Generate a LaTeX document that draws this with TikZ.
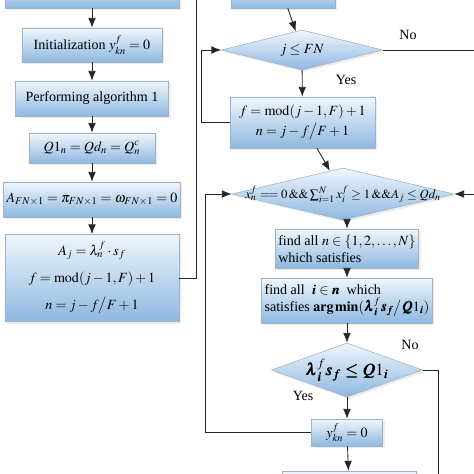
\documentclass[tikz,border=0pt]{standalone}
\usepackage{amsmath}
\usepackage{mathptmx}
\usepackage{bm}
\usepackage{fontspec}
\setmainfont{Liberation Serif}
\usetikzlibrary{positioning,arrows.meta,shadows,shapes.geometric}

\definecolor{boxtop}{RGB}{240,246,252}
\definecolor{boxbot}{RGB}{142,184,224}
\definecolor{boxline}{RGB}{158,178,200}

\tikzset{>={Latex[length=7pt,width=5.5pt]},
                 box/.style={draw=boxline, line width=0.4pt, top color=boxtop, bottom color=boxbot,
                             text centered, inner sep=2pt,
                             drop shadow={shadow xshift=1.5pt, shadow yshift=-1.5pt, opacity=0.15}},
                 dec/.style={box, diamond, inner sep=0pt},
                 lbl/.style={inner sep=1pt},
                 flow/.style={line width=0.6pt, draw=black!85}}

\begin{document}
\begin{tikzpicture}[x=0.025cm, y=-0.025cm]
            \clip (0,0) rectangle (474,474);

            % left column
            \node[box, minimum width=4.35cm, minimum height=0.825cm] at ( 92, -8.5) (start) {};
            \node[box, minimum width=3.5cm,  minimum height=0.85cm]  at ( 92,  45)  (init)  {Initialization $y_{kn}^{f}=0$};
            \node[box, minimum width=3.825cm, minimum height=0.875cm] at ( 92, 98.5) (algo)  {Performing algorithm 1};
            \node[box, minimum width=3.15cm, minimum height=0.75cm]  at ( 92, 148)  (cap)   {$Q\mathrm{1}_n = Qd_n = Q_n^{c}$};
            \node[box, minimum width=4.3cm,  minimum height=0.875cm] at ( 92, 199.5) (zero) {$A_{FN\times 1} = \pi_{FN\times 1} = \omega_{FN\times 1} = 0$};
            \node[box, minimum width=4.35cm, minimum height=2.175cm, align=center] at ( 92, 278) (assign)
                {$A_j = \lambda_n^{f}\cdot s_f$\\[7pt] $f = \mathrm{mod}(j-1,F)+1$\\[7pt] $n = j - f\big/F + 1$};

            % right column
            \node[box, minimum width=2.6cm,  minimum height=0.7cm]   at (283,  -6)  (first) {$n_f = j$};
            \node[dec, minimum width=4.025cm, minimum height=1.0cm,
                  label={center:$j \le FN$}]                            at (302,  50)  (loopj) {};
            \node[box, minimum width=3.625cm, minimum height=1.275cm, align=center] at (302.5, 122.5) (index)
                {$f = \mathrm{mod}(j-1,F)+1$\\[2pt] $n = j - f\big/F + 1$};
            \node[dec, minimum width=5.55cm, minimum height=1.3cm,
                  label={center:\small$x_n^{f} =\!= 0\,\&\&\textstyle\sum_{i=1}^{N} x_i^{f} \ge 1\,\&\&A_j \le Qd_n$}]
                                                                       at (343, 194)  (check) {};
            \node[box, minimum width=3.525cm, minimum height=0.975cm, align=left] at (347, 248.5) (findn)
                {find all $n \in \{1,2,\ldots,N\}$\\ which satisfies};
            \node[box, minimum width=4.0cm,  minimum height=1.125cm, align=left] at (347, 300.5) (findi)
                {find all \ $\bm{i}\in\bm{n}$ \ which\\ satisfies $\mathbf{arg\,min}(\bm{\lambda_i^{f} s_f}\big/\bm{Q\mathrm{1}_i})$};
            \node[dec, minimum width=3.775cm, minimum height=1.35cm,
                  label={center:\large$\bm{\lambda_i^{f} s_f \le Q\mathrm{1}_i}$}] at (347, 370) (fits) {};
            \node[box, minimum width=1.775cm, minimum height=0.675cm] at (347, 432.5) (place) {$y_{kn}^{f} = 0$};
            \node[box, minimum width=3.35cm, minimum height=0.8cm]   at (349, 487)  (next)  {};

            \node[lbl] at (408,  35) (no1)  {No};
            \node[lbl] at (346,  80) (yes1) {Yes};
            \node[lbl] at (410, 345) (no2)  {No};
            \node[lbl] at (303, 396) (yes2) {Yes};

            \coordinate (up)    at (196,  -5);
            \coordinate (outj)  at (480,  50);
            \coordinate (inchk) at (480, 194);
            \coordinate (down)  at (438, 480);

            \foreach \a/\b in {start/init, init/algo, algo/cap, cap/zero, zero/assign,
                               first/loopj, loopj/index, index/check, findn/findi,
                               findi/fits, fits/place, place/next}
                \draw[flow, ->] (\a) -- (\b);
            \draw[flow, ->] (check.south -| findn.north) -- (findn.north);

            \draw[flow] (assign.east) -| (up);
            \draw[flow] (loopj.east) -- (outj);
            \draw[flow, ->] (inchk) -- (check.east);
            \draw[flow] (fits.east) -| (down);

            \draw[flow, ->]
                   (index.west)
                -- ++(-28, 0)
                |- (loopj.west);

            \draw[flow, ->]
                   (place.west)
                -- ++(-105.5, 0)
                |- (check.west);
        \end{tikzpicture}
\end{document}
